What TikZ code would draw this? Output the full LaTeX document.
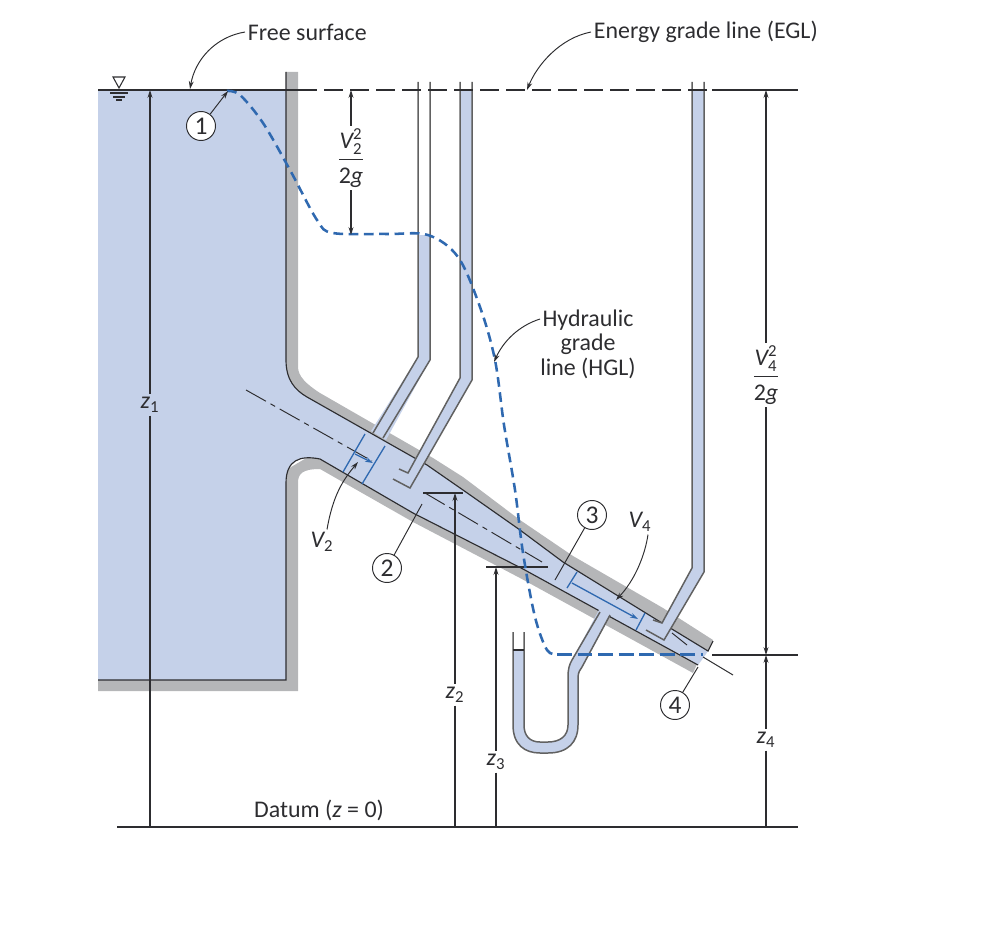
\documentclass[tikz,border=0pt]{standalone}
\usepackage{amsmath}
\usepackage{fontspec}
\setmainfont{Carlito}
\usetikzlibrary{arrows.meta, positioning}
\definecolor{waterblue}{RGB}{197, 209, 233}
\definecolor{wallgrey}{RGB}{181, 182, 184}
\definecolor{hglblue}{RGB}{47, 105, 176}
\definecolor{inkgrey}{RGB}{45, 45, 48}
\tikzset{
  lbl/.style={font=\fontsize{13.6}{14}\selectfont, text=inkgrey, inner sep=1.5pt, align=center},
  station/.style={circle, draw=inkgrey, fill=white, line width=0.55pt, minimum size=0.58cm, inner sep=0pt, font=\fontsize{14.5}{14.5}\selectfont, text=inkgrey},
  dim/.style={inkgrey, line width=0.6pt, {Stealth[length=4.5pt, width=2.8pt]}-},
  leader/.style={inkgrey, line width=0.55pt},
  leaderarrow/.style={inkgrey, line width=0.55pt, -{Stealth[length=4.5pt, width=2.8pt]}},
  refline/.style={inkgrey, line width=0.6pt},
  pipeline/.style={inkgrey, line width=0.65pt},
  tubeline/.style={black!62, line width=0.85pt},
  centerline/.style={inkgrey, line width=0.55pt, dash pattern=on 13pt off 3pt on 3pt off 3pt},
  hgl/.style={hglblue, line width=1.45pt, dash pattern=on 5.5pt off 3.2pt},
  marker/.style={hglblue, line width=0.75pt}
}
\newcommand{\zvar}[1]{{\itshape z}\textsubscript{#1}}
\newcommand{\velhead}[1]{$\dfrac{\text{\itshape V}_{\text{#1}}^{\text{2}}}{\text{2\itshape g}}$}
\begin{document}
\begin{tikzpicture}[x=0.02cm, y=-0.02cm]
  \useasboundingbox (0,0) rectangle (990,946);

  % Wall and pipe shell
  \fill[wallgrey] (286,72) -- (298,72) -- (298,367) .. controls (298,376) and (306,384) .. (320,393)
    -- (433,458) -- (463,477) -- (520,520) -- (573,556) -- (663,608) -- (713,640) -- (708,651) -- (600,600) -- (286,440) -- cycle;
  \fill[wallgrey] (98,680) -- (98,691) -- (298,691) -- (298,483) .. controls (298,474) and (302,469) .. (320,469)
    -- (413,522) -- (520,578) -- (693,673) -- (698,662) -- (480,540) -- (320,450) -- (286,470) -- (286,680) -- cycle;

  % Water in tank and pipe
  \fill[waterblue] (98,90) -- (286,90) -- (286,360) .. controls (286,380) and (295,390) .. (307,397)
    -- (427,465) -- (463,490) -- (520,530) -- (563,562) -- (662,623) -- (708,651) -- (704,657) -- (698,665)
    -- (523,569) -- (413,513) -- (320,459) .. controls (300,455) and (286,460) .. (286,483)
    -- (286,680) -- (98,680) -- cycle;

  % Pipe outline
  \draw[pipeline] (286,72) -- (286,360) .. controls (286,380) and (295,390) .. (307,397)
    -- (427,465) -- (463,490) -- (520,530) -- (563,562) -- (662,623) -- (708,651) -- (713,641);
  \draw[pipeline] (98,680) -- (286,680) -- (286,483) .. controls (286,460) and (300,455) .. (320,459)
    -- (413,513) -- (523,569) -- (698,665);

  % Tube at station 2 (empty top)
  \fill[waterblue] (418,235) -- (430,235) -- (430,360) -- (386,440) -- (371,431) -- (418,357) -- cycle;
  \draw[tubeline] (418,82) -- (418,357) -- (373,433);
  \draw[tubeline] (430,82) -- (430,360) -- (383,438);

  % Tube at station 2 (full)
  \fill[waterblue] (460,90) -- (472,90) -- (472,380) -- (410,488) -- (393,479) -- (399,469) -- (408,473) -- (460,378) -- cycle;
  \draw[tubeline] (460,82) -- (460,378) -- (408,473) -- (399,469);
  \draw[tubeline] (472,82) -- (472,380) -- (410,488) -- (393,479);

  % Tube at station 4
  \fill[waterblue] (692,90) -- (704,90) -- (704,572) -- (664,640) -- (646,630) -- (653,620) -- (662,623) -- (692,568) -- cycle;
  \draw[tubeline] (692,82) -- (692,568) -- (662,623) -- (653,620);
  \draw[tubeline] (704,82) -- (704,572) -- (664,640) -- (646,630);

  % U tube
  \fill[waterblue] (513,650) -- (513,725) .. controls (513,745) and (525,753) .. (540,753) -- (548,753)
    .. controls (568,753) and (578,742) .. (578,725) -- (578,678) .. controls (578,672) and (580,670) .. (582,667)
    -- (612,612) -- (600,608) -- (572,660) .. controls (569,665) and (568,670) .. (568,677) -- (568,725)
    .. controls (568,736) and (560,742) .. (548,742) -- (540,742) .. controls (530,742) and (524,736) .. (524,725)
    -- (524,650) -- cycle;
  \draw[tubeline] (513,632) -- (513,725) .. controls (513,745) and (525,753) .. (540,753) -- (548,753)
    .. controls (568,753) and (578,742) .. (578,725) -- (578,678) .. controls (578,672) and (580,670) .. (582,667) -- (610,615);
  \draw[tubeline] (524,632) -- (524,725) .. controls (524,736) and (530,742) .. (540,742) -- (548,742)
    .. controls (560,742) and (568,736) .. (568,725) -- (568,677) .. controls (568,670) and (569,665) .. (572,660) -- (600,612);
  \draw[refline] (513,650) -- (524,650);

  % Centerline
  \draw[centerline] (246,390) -- (372,461);
  \draw[centerline] (425,493) -- (542,562);
  \draw[centerline] (672,633) -- (687,645);
  \draw[inkgrey, line width=0.55pt] (703,657) -- (733,675);

  % Velocity markers
  \draw[marker] (365,434) -- (343,472);
  \draw[marker] (385,446) -- (362,484);
  \draw[marker, -{Stealth[length=4.5pt, width=2.8pt]}] (355,454) -- (373,463);
  \draw[marker] (577,572) -- (567,588);
  \draw[marker] (645,613) -- (636,630);
  \draw[marker, -{Stealth[length=4.5pt, width=2.8pt]}] (572,583) -- (638,619);

  % Reference levels
  \draw[refline] (98,90) -- (298,90);
  \draw[refline, dash pattern=on 11pt off 3.8pt] (298,90) -- (712,90);
  \draw[refline] (712,90) -- (798,90);
  \draw[refline] (712,655) -- (798,655);
  \draw[refline] (117,827) -- (798,827);
  \draw[refline] (423,493) -- (463,493);
  \draw[refline] (486,567) -- (548,567);

  % Free surface symbol
  \draw[inkgrey, line width=0.6pt] (113,77) -- (125,77) -- (119,88) -- cycle;
  \draw[refline] (110,93) -- (128,93);
  \draw[refline] (113,97) -- (125,97);
  \draw[refline] (116,100) -- (122,100);

  % Hydraulic grade line
  \draw[hgl] plot[smooth, tension=0.55] coordinates {(227,91) (240,95) (263,123) (290,170) (317,220) (333,233)
    (387,234) (428,235) (458,257) (480,307) (495,360) (504,425) (515,490) (523,553) (535,617) (547,650) (557,654)};
  \draw[hgl, line width=1.7pt, dash pattern=on 8.5pt off 3.2pt] (557,654) -- (703,654);

  % Elevations
  \coordinate (topone) at (150,90);
  \coordinate (baseone) at (150,827);
  \node[lbl] (zone) at (150,405) {\zvar{1}};
  \draw[dim] (topone) -- (zone);
  \draw[refline] (zone) -- (baseone);

  \coordinate (toptwo) at (455,493);
  \coordinate (basetwo) at (455,827);
  \node[lbl] (ztwo) at (455,695) {\zvar{2}};
  \draw[dim] (toptwo) -- (ztwo);
  \draw[refline] (ztwo) -- (basetwo);

  \coordinate (topthree) at (496,567);
  \coordinate (basethree) at (496,827);
  \node[lbl] (zthree) at (496,762) {\zvar{3}};
  \draw[dim] (topthree) -- (zthree);
  \draw[refline] (zthree) -- (basethree);

  \coordinate (topfour) at (766,655);
  \coordinate (basefour) at (766,827);
  \node[lbl] (zfour) at (766,740) {\zvar{4}};
  \draw[dim] (topfour) -- (zfour);
  \draw[refline] (zfour) -- (basefour);

  % Velocity heads
  \coordinate (headtwotop) at (351,90);
  \coordinate (headtwobase) at (351,235);
  \node[lbl] (headtwo) at (351,158) {\velhead{2}};
  \draw[dim] (headtwotop) -- (headtwo);
  \draw[dim] (headtwobase) -- (headtwo);

  \coordinate (headfourtop) at (766,90);
  \coordinate (headfourbase) at (766,655);
  \node[lbl] (headfour) at (766,375) {\velhead{4}};
  \draw[dim] (headfourtop) -- (headfour);
  \draw[dim] (headfourbase) -- (headfour);

  % Labels and leaders
  \node[lbl, anchor=west] (freelbl) at (245,32) {Free surface};
  \coordinate (freetip) at (190,89);
  \draw[leaderarrow] (freelbl.west) .. controls (215,37) and (195,60) .. (freetip);

  \node[lbl, anchor=west] (egllbl) at (591,32) {Energy grade line (EGL)};
  \coordinate (egltip) at (527,90);
  \draw[leaderarrow] (egllbl.west) .. controls (560,38) and (537,65) .. (egltip);

  \node[lbl] (hgllbl) at (588,344) {Hydraulic\\grade\\line (HGL)};
  \coordinate (hglfrom) at (540,319);
  \coordinate (hgltip) at (494,362);
  \draw[leaderarrow] (hglfrom) .. controls (518,326) and (503,342) .. (hgltip);

  \node[lbl] (datumlbl) at (319,810) {Datum ({\itshape z} = 0)};

  \node[lbl] (vtwolbl) at (322,542) {{\itshape V}\textsubscript{2}};
  \coordinate (vtwotip) at (358,462);
  \draw[leaderarrow] (vtwolbl.north) ++(5,0) .. controls (333,495) and (343,480) .. (vtwotip);

  \node[lbl] (vfourlbl) at (640,522) {{\itshape V}\textsubscript{4}};
  \coordinate (vfourtip) at (616,600);
  \draw[leaderarrow] (vfourlbl.south) ++(8,0) .. controls (645,555) and (635,580) .. (vfourtip);

  % Stations
  \node[station] (stone) at (201,126) {1};
  \coordinate (stonetip) at (228,91);
  \draw[leaderarrow] (stone) -- (stonetip);

  \node[station] (sttwo) at (387,568) {2};
  \coordinate (sttwotip) at (422,504);
  \draw[leader] (sttwo) -- (sttwotip);

  \node[station] (stthree) at (592,515) {3};
  \coordinate (stthreetip) at (555,580);
  \draw[leader] (stthree) -- (stthreetip);

  \node[station] (stfour) at (675,705) {4};
  \coordinate (stfourtip) at (698,667);
  \draw[leader] (stfour) -- (stfourtip);
\end{tikzpicture}
\end{document}
